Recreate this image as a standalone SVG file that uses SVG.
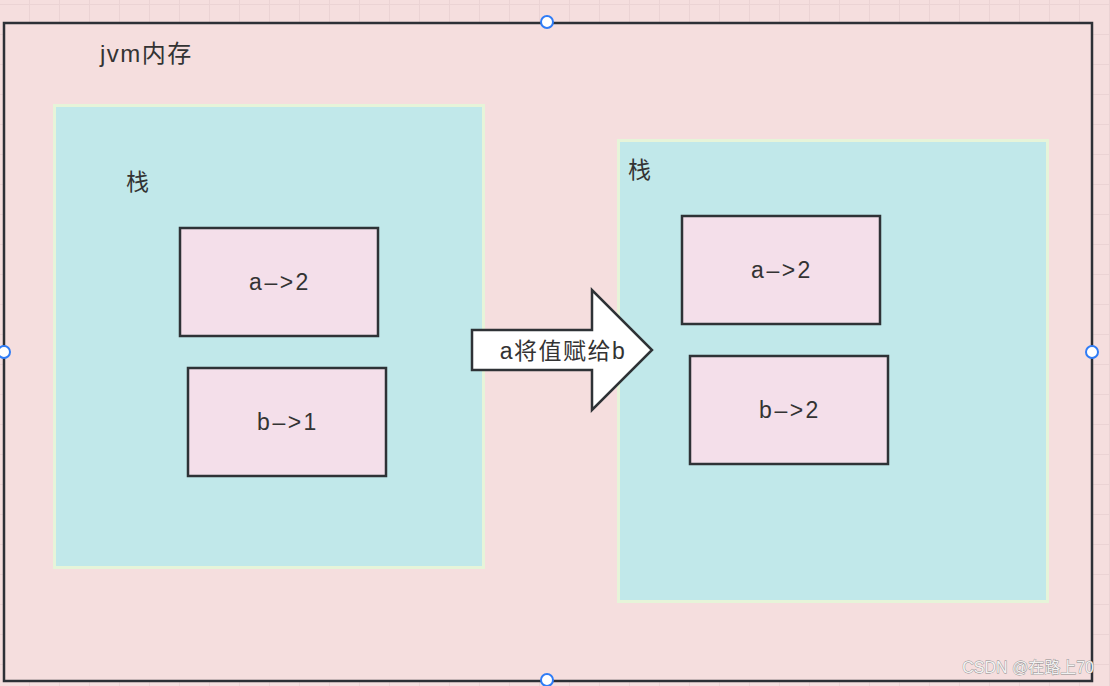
<svg xmlns="http://www.w3.org/2000/svg" width="1110" height="686" viewBox="0 0 1110 686">
<defs>
<pattern id="grid" x="29" y="4" width="30" height="30" patternUnits="userSpaceOnUse">
<path d="M0 0H30M0 0V30" fill="none" stroke="#ebd3d4" stroke-width="2"/>
</pattern>
<style>
.t{font-family:"Liberation Sans","Noto Sans CJK SC",sans-serif;fill:#333;}
.lbl{font-size:23px;letter-spacing:2.5px;text-anchor:middle;}
.stack{fill:#c1e8ea;stroke:#e6f4d9;stroke-width:3;}
.box{fill:#f4dfea;stroke:#2e3236;stroke-width:2.5;}
.handle{fill:#fff;stroke:#2f7cf6;stroke-width:2;}
</style>
</defs>
<rect width="1110" height="686" fill="#f5dede"/>
<rect width="1110" height="686" fill="url(#grid)"/>
<g id="jvm">
<rect x="4" y="23" width="1088" height="658" fill="#f5dede" stroke="#2d3036" stroke-width="2.5"/>
<text class="t" x="100" y="62" font-size="24" letter-spacing="1.5">jvm内存</text>
</g>
<g id="stack1">
<rect class="stack" x="54.5" y="105.5" width="429" height="462"/>
<text class="t" x="126" y="190" font-size="23">栈</text>
</g>
<g id="stack2">
<rect class="stack" x="618.5" y="140.5" width="429" height="461"/>
<text class="t" x="628" y="178" font-size="23">栈</text>
</g>
<g id="a1">
<rect class="box" x="180" y="228" width="198" height="108"/>
<text class="t lbl" x="280" y="290">a–&gt;2</text>
</g>
<g id="b1">
<rect class="box" x="188" y="368" width="198" height="108"/>
<text class="t lbl" x="288" y="430">b–&gt;1</text>
</g>
<g id="a2">
<rect class="box" x="682" y="216" width="198" height="108"/>
<text class="t lbl" x="782" y="278">a–&gt;2</text>
</g>
<g id="b2">
<rect class="box" x="690" y="356" width="198" height="108"/>
<text class="t lbl" x="790" y="418">b–&gt;2</text>
</g>
<g id="connectors">
<g id="arrow">
<path d="M472 330H592V290L652 350L592 410V370H472Z" fill="#fff" stroke="#2e3236" stroke-width="2.5" stroke-linejoin="miter"/>
<text class="t" x="563" y="359" font-size="23" letter-spacing="1.5" text-anchor="middle">a将值赋给b</text>
</g>
</g>
<g id="handles">
<circle class="handle" cx="547" cy="22" r="6"/>
<circle class="handle" cx="4" cy="352" r="6"/>
<circle class="handle" cx="1092" cy="352" r="6"/>
<circle class="handle" cx="547" cy="680" r="6"/>
</g>
<text x="1094" y="673" font-size="16" text-anchor="end" font-family="Liberation Sans,'Noto Sans CJK SC',sans-serif" fill="#f2f2f2" stroke="#8a8a8a" stroke-width="0.8" paint-order="stroke">CSDN @在路上70</text>
</svg>
